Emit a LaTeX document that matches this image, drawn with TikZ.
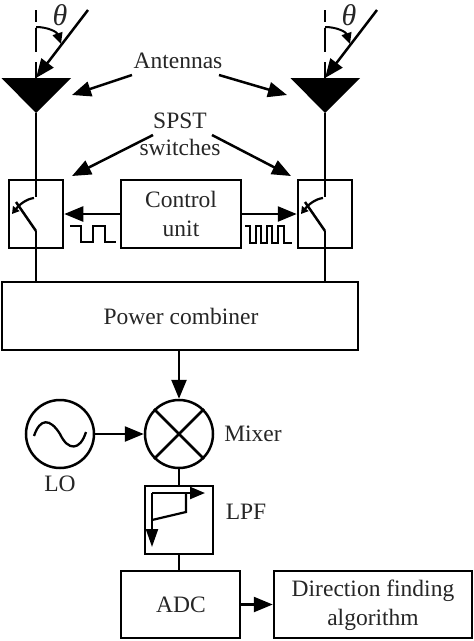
\documentclass[tikz,border=0pt]{standalone}
\usepackage{fontspec}
\setmainfont{Liberation Serif}
\usetikzlibrary{arrows.meta,calc}
\tikzset{
  x=1pt,y=-1pt,
  ln/.style={line width=2.5pt,black},
  ar/.style={ln,-{Triangle[length=19pt,width=15pt]}},
  sar/.style={line width=2pt,black,-{Triangle[length=11pt,width=10pt]}},
  blk/.style={draw=black,line width=2.5pt,inner sep=0pt,fill=white},
  lab/.style={font=\fontsize{23.5pt}{28pt}\selectfont,text=black!85,inner sep=0pt,align=center},
  wave/.style={line width=1.9pt,black},
}
\begin{document}
\begin{tikzpicture}
\useasboundingbox (0,0) rectangle (474,641);
\fill[white] (0,0) rectangle (474,641);
% antennas, incident waves and switches
\foreach \nm/\dx in {L/0,R/289}{
  \begin{scope}[xshift=\dx pt]
    \coordinate (top\nm) at (36,78);
    \coordinate (far\nm) at (88,10);
    \coordinate (tip\nm) at (36,113);
    \fill[black] (1.5,78) -- (71,78) -- (tip\nm) -- cycle;
    \draw[line width=2.5pt,dash pattern=on 12pt off 6pt on 24pt off 10pt on 16pt] (36,10) -- (top\nm);
    \draw[ar] (far\nm) -- (top\nm);
    \draw[sar] (36,27) .. controls (48,27) and (57,32) .. (61,44);
    \node[lab,font=\fontsize{30pt}{30pt}\selectfont\itshape] (theta\nm) at (60,15) {θ};
    \node[blk,minimum width=54pt,minimum height=68pt] (sw\nm) at (36,214) {};
    \draw[ln] (tip\nm) -- (36,197);
    \draw[ln] (36,231) -- (36,282);
    \draw[ln] (36,231) -- (16,202);
    \draw[line width=2.2pt,-{Triangle[length=7pt,width=8pt]}] (34,198) .. controls (26,199) and (19,205) .. (12,214);
  \end{scope}
}
% blocks
\node[blk,minimum width=120pt,minimum height=68pt] (ctl) at (181,214) {};
\node[lab] (ctlt) at (181,214) {Control\\[1pt]unit};
\node[blk,minimum width=356pt,minimum height=68pt] (pc) at (180,316) {};
\node[lab] (pct) at (181,316) {Power combiner};
\node[blk,circle,minimum size=68pt] (mix) at (179,434) {};
\node[blk,circle,minimum size=68pt] (lo) at (60,434) {};
\node[blk,minimum width=68pt,minimum height=68pt] (lpf) at (179,520) {};
\node[blk,minimum width=119pt,minimum height=67pt] (adc) at (180.5,604.5) {};
\node[lab] (adct) at (181,605) {ADC};
\node[blk,minimum width=198pt,minimum height=67pt] (dfa) at (373,604.5) {};
\node[lab] (dfat) at (373,605) {Direction finding\\[1pt]algorithm};
% labels
\node[lab] (ant) at (178,61) {Antennas};
\node[lab] (spst) at (180,134) {SPST\\[-1pt]switches};
\node[lab] (lot) at (60,484) {LO};
\node[lab] (mixt) at (253,434) {Mixer};
\node[lab] (lpft) at (246,512) {LPF};
% connectors
\draw[ar] (ctl.west) -- (swL.east);
\draw[ar] (ctl.east) -- (swR.west);
\draw[ar] (pc.south -| mix) -- (mix.north);
\draw[ar] (lo.east) -- (mix.west);
\draw[ln] (mix.south) -- (lpf.north);
\draw[ln] (lpf.south) -- (lpf.south |- adc.north);
\draw[ar] (adc.east) -- (dfa.west);
% annotation arrows
\draw[ar] (132,75) -- (72,95);
\draw[ar] (219,75) -- (287,95);
\draw[ar] (153,135) -- (72,176);
\draw[ar] (212,135) -- (291,176);
% mixer cross
\draw[ln] (mix.north west) -- (mix.south east);
\draw[ln] (mix.north east) -- (mix.south west);
% LO sine
\draw[line width=2.3pt] (34,436) .. controls (40,418) and (50,418) .. (60,434) .. controls (68,451) and (80,451) .. (86,432);
% LPF symbol
\draw[line width=2.2pt,-{Triangle[length=15pt,width=12pt]}] (152,493) -- (205,493);
\draw[line width=2.2pt,-{Triangle[length=18pt,width=12pt]}] (152,493) -- (152,547);
\draw[line width=2.2pt] (152,520) -- (186,512) -- (186,493);
% waveforms
\draw[wave] (70,226) -- (81,226) -- (81,242) -- (93,242) -- (93,226) -- (105,226) -- (105,242) -- (116,242);
\draw[wave] (245,226) -- (250,226) -- (250,243) -- (256,243) -- (256,226) -- (261,226) -- (261,243) -- (267,243) -- (267,226) -- (272,226) -- (272,243) -- (278,243) -- (278,226) -- (284,226) -- (284,243) -- (292,243);
\end{tikzpicture}
\end{document}
